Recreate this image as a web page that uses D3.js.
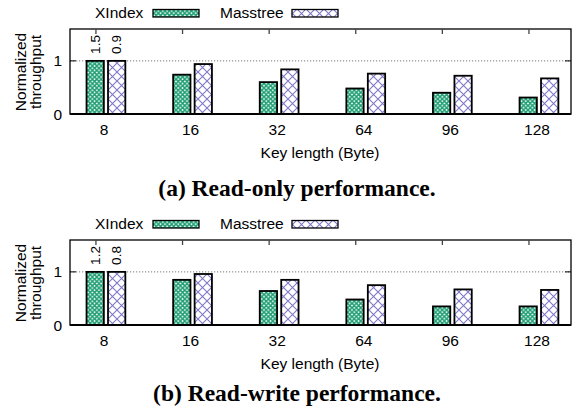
<!DOCTYPE html>
<html>
<head>
<meta charset="utf-8" />
<title>XIndex vs Masstree key length</title>
<script src="https://d3js.org/d3.v7.min.js"></script>
<style>
    html, body { margin: 0; padding: 0; background: #fff; }
    svg { display: block; }
    .sans { font-family: "Liberation Sans", Arial, sans-serif; }
    .caption { font-family: "Liberation Serif", "Times New Roman", serif; font-weight: bold; }
</style>
</head>
<body>
<div id="chart"></div>
<script>
    var keyLengths = ["8", "16", "32", "64", "96", "128"];
    var seriesNames = ["XIndex", "Masstree"];
    var yTicks = [0, 1];

    var readOnlyXIndex = [1.0, 0.74, 0.60, 0.48, 0.40, 0.31];
    var readOnlyMasstree = [1.0, 0.94, 0.84, 0.76, 0.72, 0.67];
    var readOnlyNotes = ["1.5", "0.9"];

    var readWriteXIndex = [1.0, 0.85, 0.64, 0.48, 0.35, 0.35];
    var readWriteMasstree = [1.0, 0.96, 0.85, 0.75, 0.67, 0.66];
    var readWriteNotes = ["1.2", "0.8"];

    var width = 579, height = 417;
    var green = "#1f9e74", purple = "#7f78c8";

    var svg = d3.select("#chart").append("svg")
        .attr("width", width)
        .attr("height", height);

    // fill patterns
    var defs = svg.append("defs");
    var pg = defs.append("pattern")
        .attr("id", "patXIndex")
        .attr("patternUnits", "userSpaceOnUse")
        .attr("width", 4.4).attr("height", 4.4);
    pg.append("rect").attr("width", 4.4).attr("height", 4.4).attr("fill", "#fff");
    pg.append("path").attr("d", "M0,0L4.4,4.4M4.4,0L0,4.4")
        .attr("stroke", green).attr("stroke-width", 1.5).attr("fill", "none");

    var pm = defs.append("pattern")
        .attr("id", "patMasstree")
        .attr("patternUnits", "userSpaceOnUse")
        .attr("width", 9).attr("height", 9);
    pm.append("rect").attr("width", 9).attr("height", 9).attr("fill", "#fff");
    pm.append("path").attr("d", "M0,0L9,9M9,0L0,9")
        .attr("stroke", purple).attr("stroke-width", 1.1).attr("fill", "none");

    var fills = ["url(#patXIndex)", "url(#patMasstree)"];

    var x = d3.scaleLinear().domain([-0.415, 5.37]).range([70, 571]);

    function drawPanel(top, xiVals, msVals, notes, caption, captionY) {
        var g = svg.append("g").attr("transform", "translate(0," + top + ")");
        var y = d3.scaleLinear().domain([0, 1.6]).range([114, 29]);

        // legend
        var legend = [[95, 153], [220, 292]];
        seriesNames.forEach(function(name, i) {
            g.append("text").attr("class", "sans")
                .attr("x", legend[i][0]).attr("y", 18)
                .attr("font-size", 15.5)
                .text(name);
            g.append("rect")
                .attr("x", legend[i][1]).attr("y", 9.5)
                .attr("width", 46).attr("height", 7.5)
                .attr("fill", fills[i])
                .attr("stroke", "#000").attr("stroke-width", 1.3);
        });

        // dotted reference line at 1
        g.append("line")
            .attr("x1", 70).attr("x2", 571)
            .attr("y1", y(1)).attr("y2", y(1))
            .attr("stroke", "#777").attr("stroke-width", 1)
            .attr("stroke-dasharray", "1.2,1.8");

        // bars
        var series = [xiVals, msVals];
        var offs = [-0.124, 0.124];
        var bw = 0.2;
        series.forEach(function(vals, s) {
            g.selectAll(".bar" + s)
                .data(vals)
                .enter().append("rect")
                .attr("x", function(d, i) { return x(i + offs[s] - bw / 2); })
                .attr("width", x(bw) - x(0))
                .attr("y", function(d) { return y(d); })
                .attr("height", function(d) { return y(0) - y(d); })
                .attr("fill", fills[s])
                .attr("stroke", "#000").attr("stroke-width", 1.8);
        });

        // rotated notes above first group
        notes.forEach(function(t, s) {
            var nx = x(offs[s]) + 4.5;
            var ny = y(series[s][0]) - 7;
            g.append("text").attr("class", "sans")
                .attr("transform", "translate(" + nx + "," + ny + ") rotate(-90)")
                .attr("font-size", 13.5)
                .text(t);
        });

        // frame
        g.append("rect")
            .attr("x", 70).attr("y", 29)
            .attr("width", 501).attr("height", 85)
            .attr("fill", "none").attr("stroke", "#000").attr("stroke-width", 1.3);
        g.append("line")
            .attr("x1", 70).attr("x2", 571)
            .attr("y1", 114).attr("y2", 114)
            .attr("stroke", "#000").attr("stroke-width", 2);

        // top mirror ticks
        g.selectAll(".tt")
            .data(keyLengths)
            .enter().append("line")
            .attr("x1", function(d, i) { return x(i) - 10; })
            .attr("x2", function(d, i) { return x(i) - 10; })
            .attr("y1", 29).attr("y2", 34)
            .attr("stroke", "#444").attr("stroke-width", 1.3);

        // y ticks
        yTicks.forEach(function(v) {
            g.append("text").attr("class", "sans")
                .attr("x", 62).attr("y", y(v) + 5.5)
                .attr("text-anchor", "end")
                .attr("font-size", 15.5)
                .text(v);
            if (v > 0) {
                g.append("line").attr("x1", 70).attr("x2", 76)
                    .attr("y1", y(v)).attr("y2", y(v))
                    .attr("stroke", "#000").attr("stroke-width", 1);
                g.append("line").attr("x1", 565).attr("x2", 571)
                    .attr("y1", y(v)).attr("y2", y(v))
                    .attr("stroke", "#000").attr("stroke-width", 1);
            }
        });

        // x tick labels
        g.selectAll(".xl")
            .data(keyLengths)
            .enter().append("text").attr("class", "sans")
            .attr("x", function(d, i) { return x(i) - 2; })
            .attr("y", 135)
            .attr("text-anchor", "middle")
            .attr("font-size", 15.5)
            .text(function(d) { return d; });

        // axis titles
        g.append("text").attr("class", "sans")
            .attr("x", 320).attr("y", 158)
            .attr("text-anchor", "middle")
            .attr("font-size", 15.5)
            .text("Key length (Byte)");

        var yt = g.append("text").attr("class", "sans")
            .attr("transform", "translate(0,72) rotate(-90)")
            .attr("text-anchor", "middle")
            .attr("font-size", 15.5);
        yt.append("tspan").attr("x", 0).attr("y", 26).text("Normalized");
        yt.append("tspan").attr("x", 0).attr("y", 41).text("throughput");

        svg.append("text").attr("class", "caption")
            .attr("x", 297).attr("y", captionY)
            .attr("text-anchor", "middle")
            .attr("font-size", 23.5)
            .text(caption);
    }

    drawPanel(0, readOnlyXIndex, readOnlyMasstree, readOnlyNotes, "(a) Read-only performance.", 196);
    drawPanel(211, readWriteXIndex, readWriteMasstree, readWriteNotes, "(b) Read-write performance.", 401);
</script>
</body>
</html>
